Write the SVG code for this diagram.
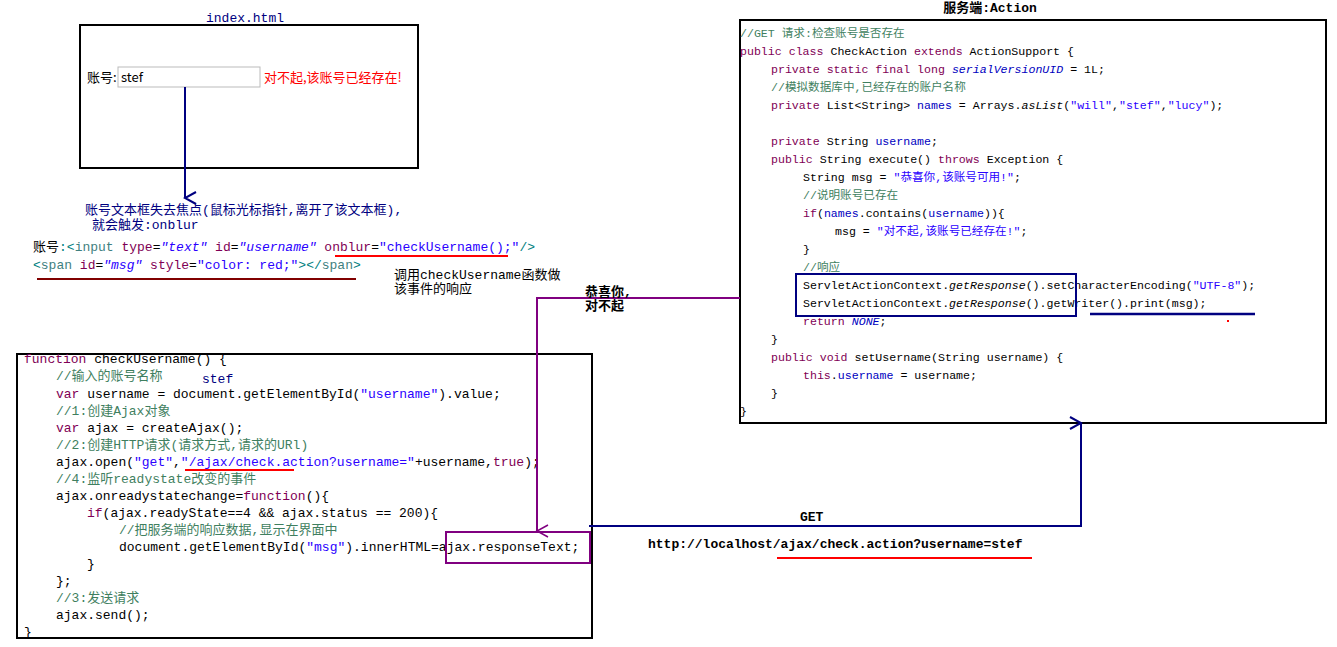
<svg xmlns="http://www.w3.org/2000/svg" width="1337" height="647" viewBox="0 0 1337 647">
<style>
.c{font-family:"Liberation Mono","Noto Sans CJK SC",monospace;font-size:13px;fill:#000}
.r{font-family:"Liberation Mono","Noto Sans CJK SC",monospace;font-size:11.6px;fill:#000}
.k{fill:#7f0055}.s{fill:#2a00ff}.g{fill:#3f7f5f}.f{fill:#0000c0}
.box{fill:#fff;stroke:#000;stroke-width:2}
.sans{font-family:"Noto Sans CJK SC","Liberation Sans",sans-serif}
.nv{fill:#000080}
</style>
<defs>
<marker id="av" markerWidth="14" markerHeight="14" refX="7" refY="12" orient="auto-start-reverse" markerUnits="userSpaceOnUse"><path d="M1,1 L7,12 L13,1" fill="none" stroke="#000080" stroke-width="2"/></marker>
<marker id="ap" markerWidth="14" markerHeight="14" refX="7" refY="12" orient="auto" markerUnits="userSpaceOnUse"><path d="M1,1 L7,12 L13,1" fill="none" stroke="#800080" stroke-width="1.5"/></marker>
</defs>
<rect width="1337" height="647" fill="#fff"/>

<g id="index">
<text x="245" y="22" class="c nv" font-size="12" text-anchor="middle">index.html</text>
<rect x="80" y="25" width="338" height="143" class="box"/>
<text x="87" y="82" class="sans" font-size="13">账号:</text>
<rect x="118" y="67" width="142" height="20" fill="#fff" stroke="#bbb"/>
<text x="121" y="82" class="sans" font-size="13">stef</text>
<text x="264" y="82" class="sans" font-size="13" fill="#ff0000">对不起,该账号已经存在!</text>
</g>

<g id="blur-note">
<text x="85" y="214" class="c nv" font-size="12">账号文本框失去焦点(鼠标光标指针,离开了该文本框),</text>
<text x="92" y="229" class="c nv" font-size="12">就会触发:onblur</text>
</g>

<g id="html-code">
<text x="33" y="251" class="c" font-size="12"><tspan font-size="13">账号</tspan><tspan fill="#008080">:&lt;</tspan><tspan fill="#3f7f7f">input</tspan> <tspan class="k">type</tspan>=<tspan class="s" font-style="italic">"text"</tspan> <tspan class="k">id</tspan>=<tspan class="s" font-style="italic">"username"</tspan> <tspan class="k">onblur</tspan>=<tspan class="s">"checkUsername();"</tspan><tspan fill="#008080">/&gt;</tspan></text>
<text x="33" y="269" class="c" font-size="12"><tspan fill="#008080">&lt;</tspan><tspan fill="#3f7f7f">span</tspan> <tspan class="k">id</tspan>=<tspan class="s" font-style="italic">"msg"</tspan> <tspan class="k">style</tspan>=<tspan class="s">"color: red;"</tspan><tspan fill="#008080">&gt;&lt;/</tspan><tspan fill="#3f7f7f">span</tspan><tspan fill="#008080">&gt;</tspan></text>
<line x1="335" y1="256" x2="508" y2="256" stroke="#f00" stroke-width="2"/>
<line x1="37" y1="279" x2="356" y2="279" stroke="#800000" stroke-width="2"/>
<text x="394" y="279" class="c" font-size="12" fill="#800000">调用checkUsername函数做</text>
<text x="394" y="293" class="c" font-size="12" fill="#800000">该事件的响应</text>
</g>

<g id="client-js">
<rect x="17" y="354" width="575" height="284" class="box"/>
<text class="c">
<tspan x="24" y="363"><tspan class="k">function</tspan> checkUsername() {</tspan>
<tspan x="56" y="380" class="g">//输入的账号名称</tspan>
<tspan x="56" y="398"><tspan class="k">var</tspan> username = document.getElementById(<tspan class="s">"username"</tspan>).value;</tspan>
<tspan x="56" y="415" class="g">//1:创建Ajax对象</tspan>
<tspan x="56" y="432"><tspan class="k">var</tspan> ajax = createAjax();</tspan>
<tspan x="56" y="449" class="g">//2:创建HTTP请求(请求方式,请求的URl)</tspan>
<tspan x="56" y="466">ajax.open(<tspan class="s">"get"</tspan>,<tspan class="s">"/ajax/check.action?username="</tspan>+username,<tspan class="k">true</tspan>);</tspan>
<tspan x="56" y="483" class="g">//4:监听readystate改变的事件</tspan>
<tspan x="56" y="500">ajax.onreadystatechange=<tspan class="k">function</tspan>(){</tspan>
<tspan x="87" y="517"><tspan class="k">if</tspan>(ajax.readyState==4 &amp;&amp; ajax.status == 200){</tspan>
<tspan x="119" y="534" class="g">//把服务端的响应数据,显示在界面中</tspan>
<tspan x="119" y="551">document.getElementById(<tspan class="s">"msg"</tspan>).innerHTML=ajax.responseText;</tspan>
<tspan x="87" y="568">}</tspan>
<tspan x="56" y="585">};</tspan>
<tspan x="56" y="602" class="g">//3:发送请求</tspan>
<tspan x="56" y="619">ajax.send();</tspan>
<tspan x="24" y="636">}</tspan>
</text>
<text x="202" y="383" class="c nv" font-size="12">stef</text>
<line x1="185" y1="470" x2="294" y2="470" stroke="#f00" stroke-width="2"/>
<rect x="446" y="532" width="144" height="31" fill="none" stroke="#800080" stroke-width="2"/>
</g>

<g id="server">
<text x="990" y="12" class="c" font-size="12" font-weight="bold" text-anchor="middle">服务端:Action</text>
<rect x="740" y="20" width="586" height="403" class="box"/>
<text class="r">
<tspan x="740" y="37" class="g">//GET 请求:检查账号是否存在</tspan>
<tspan x="740" y="55"><tspan class="k">public class</tspan> CheckAction <tspan class="k">extends</tspan> ActionSupport {</tspan>
<tspan x="771" y="73"><tspan class="k">private static final long</tspan> <tspan class="f" font-style="italic">serialVersionUID</tspan> = 1L;</tspan>
<tspan x="771" y="91" class="g">//模拟数据库中,已经存在的账户名称</tspan>
<tspan x="771" y="109"><tspan class="k">private</tspan> List&lt;String&gt; <tspan class="f">names</tspan> = Arrays.<tspan font-style="italic">asList</tspan>(<tspan class="s">"will"</tspan>,<tspan class="s">"stef"</tspan>,<tspan class="s">"lucy"</tspan>);</tspan>
<tspan x="771" y="145"><tspan class="k">private</tspan> String <tspan class="f">username</tspan>;</tspan>
<tspan x="771" y="163"><tspan class="k">public</tspan> String execute() <tspan class="k">throws</tspan> Exception {</tspan>
<tspan x="803" y="181">String msg = <tspan class="s">"恭喜你,该账号可用!"</tspan>;</tspan>
<tspan x="803" y="199" class="g">//说明账号已存在</tspan>
<tspan x="803" y="217"><tspan class="k">if</tspan>(<tspan class="f">names</tspan>.contains(<tspan class="f">username</tspan>)){</tspan>
<tspan x="835" y="235">msg = <tspan class="s">"对不起,该账号已经存在!"</tspan>;</tspan>
<tspan x="803" y="253">}</tspan>
<tspan x="803" y="271" class="g">//响应</tspan>
<tspan x="803" y="289">ServletActionContext.<tspan font-style="italic">getResponse</tspan>().setCharacterEncoding(<tspan class="s">"UTF-8"</tspan>);</tspan>
<tspan x="803" y="307">ServletActionContext.<tspan font-style="italic">getResponse</tspan>().getWriter().print(msg);</tspan>
<tspan x="803" y="325"><tspan class="k">return</tspan> <tspan class="f" font-style="italic">NONE</tspan>;</tspan>
<tspan x="771" y="343">}</tspan>
<tspan x="771" y="361"><tspan class="k">public void</tspan> setUsername(String username) {</tspan>
<tspan x="803" y="379"><tspan class="k">this</tspan>.<tspan class="f">username</tspan> = username;</tspan>
<tspan x="771" y="397">}</tspan>
<tspan x="740" y="415">}</tspan>
</text>
<rect x="796" y="274" width="280" height="42" fill="none" stroke="#000080" stroke-width="2"/>
<line x1="1090" y1="314" x2="1255" y2="314" stroke="#000080" stroke-width="2.5"/>
<rect x="1227" y="320" width="2" height="2" fill="#f00"/>
</g>

<g id="connectors">
<line x1="185" y1="87" x2="185" y2="198" stroke="#000080" stroke-width="2" marker-end="url(#av)"/>
<polyline points="740,298 537,298 537,531" fill="none" stroke="#800080" stroke-width="2" marker-end="url(#ap)"/>
<polyline points="589,526 1081,526 1081,423" fill="none" stroke="#000080" stroke-width="2" marker-end="url(#av)"/>
<text x="585" y="296" class="c" font-size="12" font-weight="bold" fill="#0000ff">恭喜你,</text>
<text x="585" y="310" class="c" font-size="12" font-weight="bold" fill="#0000ff">对不起</text>
<text x="800" y="521" class="c" font-size="12" font-weight="bold" fill="#000080">GET</text>
<text x="648" y="548" class="c" font-size="12" font-weight="bold" fill="#000080">http://localhost/ajax/check.action?username=stef</text>
<line x1="777" y1="558" x2="1032" y2="558" stroke="#f00" stroke-width="2"/>
</g>
</svg>
